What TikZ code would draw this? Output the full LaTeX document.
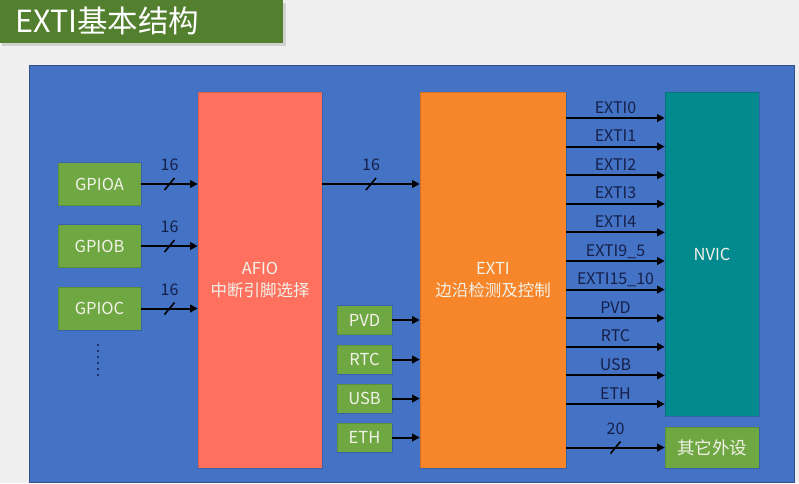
\documentclass[tikz,border=0pt]{standalone}
\usepackage{fontspec}
\newfontfamily\cjk{Noto Sans CJK SC}
\usetikzlibrary{arrows.meta,positioning}
\definecolor{bggrey}{HTML}{F0EFF0}
\definecolor{titlegreen}{HTML}{52802F}
\definecolor{panelblue}{HTML}{4472C4}
\definecolor{afiored}{HTML}{FF705F}
\definecolor{extiorange}{HTML}{F7862B}
\definecolor{nvicteal}{HTML}{038A8F}
\definecolor{boxgreen}{HTML}{6FA843}
\definecolor{boxtext}{HTML}{F2F2E8}
\definecolor{labelblue}{HTML}{15204A}
\def\boxfont{\cjk\fontsize{16.5}{22}\selectfont}
\def\lblfont{\cjk\fontsize{16}{18}\selectfont}

\begin{document}
\begin{tikzpicture}[x=1pt,y=-1pt,>={Triangle[length=7.5pt,width=7.5pt]},font=\cjk]
            \tikzstyle{box}=[draw=black, draw opacity=.15, line width=.6pt, inner sep=0pt, text=boxtext, align=center, font=\boxfont]
            \tikzstyle{gpio}=[box, fill=boxgreen, minimum width=83pt, minimum height=43pt]
            \tikzstyle{src}=[gpio, minimum width=55pt, minimum height=29pt]
            \tikzstyle{sig}=[->, line width=2pt, black]
            \tikzstyle{slash}=[line width=1.6pt, black]
            \tikzstyle{lbl}=[text=labelblue, font=\lblfont, inner sep=1pt, text depth=0pt]

            % background, title and panel
            \fill[bggrey] (0,0) rectangle (799,483);
            \useasboundingbox (0,0) rectangle (799,483);
            \fill[black!18] (2,3) rectangle (286,46);
            \fill[titlegreen] (0,0) rectangle (283,43);
            \node[anchor=west, text=white, inner sep=0pt, font=\cjk\fontsize{30.5}{34}\selectfont] (title) at (15,21) {EXTI基本结构};
            \filldraw[fill=panelblue, draw=panelblue!70!black, line width=.8pt] (29,65) rectangle (794,482);

            % the big blocks
            \node[box, fill=afiored, minimum width=124pt, minimum height=376pt] (AFIO) at (260,280) {AFIO\\中断引脚选择};
            \node[box, fill=extiorange, minimum width=146pt, minimum height=376pt] (EXTI) at (493,280) {EXTI\\边沿检测及控制};
            \node[box, fill=nvicteal, minimum width=94pt, minimum height=324pt] (NVIC) at (712,254) {NVIC};
            \node[gpio, minimum width=94pt, minimum height=41pt, font=\cjk\fontsize{17.5}{20}\selectfont] (OTHER) at (712,447.5) {其它外设};

            % GPIO ports into AFIO
            \foreach \name / \y in {A/184,B/246,C/308.5}
            {
                \node[gpio] (GPIO\name) at (99.5,\y) {GPIO\name};
                \draw[sig] (GPIO\name.east) -- coordinate (m\name) (GPIO\name.east -| AFIO.west);
                \draw[slash] ([shift={(-5,6)}]m\name) -- ([shift={(5,-6)}]m\name);
                \node[lbl, above=12pt] (n\name) at (m\name) {16};
            }
            \foreach \k in {0,...,5}
                \fill[labelblue] (98,345+6*\k) circle (1.2);

            % AFIO to EXTI
            \draw[sig] (AFIO.east |- GPIOA.east) -- coordinate (mBus) (EXTI.west |- GPIOA.east);
            \draw[slash] ([shift={(-5,6)}]mBus) -- ([shift={(5,-6)}]mBus);
            \node[lbl, above=12pt] (nBus) at (mBus) {16};

            % other sources into EXTI
            \foreach \name / \y in {PVD/320,RTC/359.5,USB/398.5,ETH/437.5}
            {
                \node[src] (\name) at (364.5,\y) {\name};
                \draw[sig] (\name.east) -- (\name.east -| EXTI.west);
            }

            % EXTI lines to NVIC
            \foreach \lab / \y [count=\i] in {EXTI0/118,EXTI1/146.6,EXTI2/175.2,EXTI3/203.8,EXTI4/232.4,EXTI9\_5/261,EXTI15\_10/289.6,PVD/318.2,RTC/346.8,USB/375.4,ETH/404}
                \draw[sig] (EXTI.east |- 0,\y) -- node[lbl, above=3pt] (out\i) {\lab} (NVIC.west |- 0,\y);

            % EXTI to the other peripherals
            \draw[sig] (EXTI.east |- OTHER.west) -- coordinate (mOut) (OTHER.west);
            \draw[slash] ([shift={(-5,6)}]mOut) -- ([shift={(5,-6)}]mOut);
            \node[lbl, above=12pt] (nOut) at (mOut) {20};
        \end{tikzpicture}
\end{document}
